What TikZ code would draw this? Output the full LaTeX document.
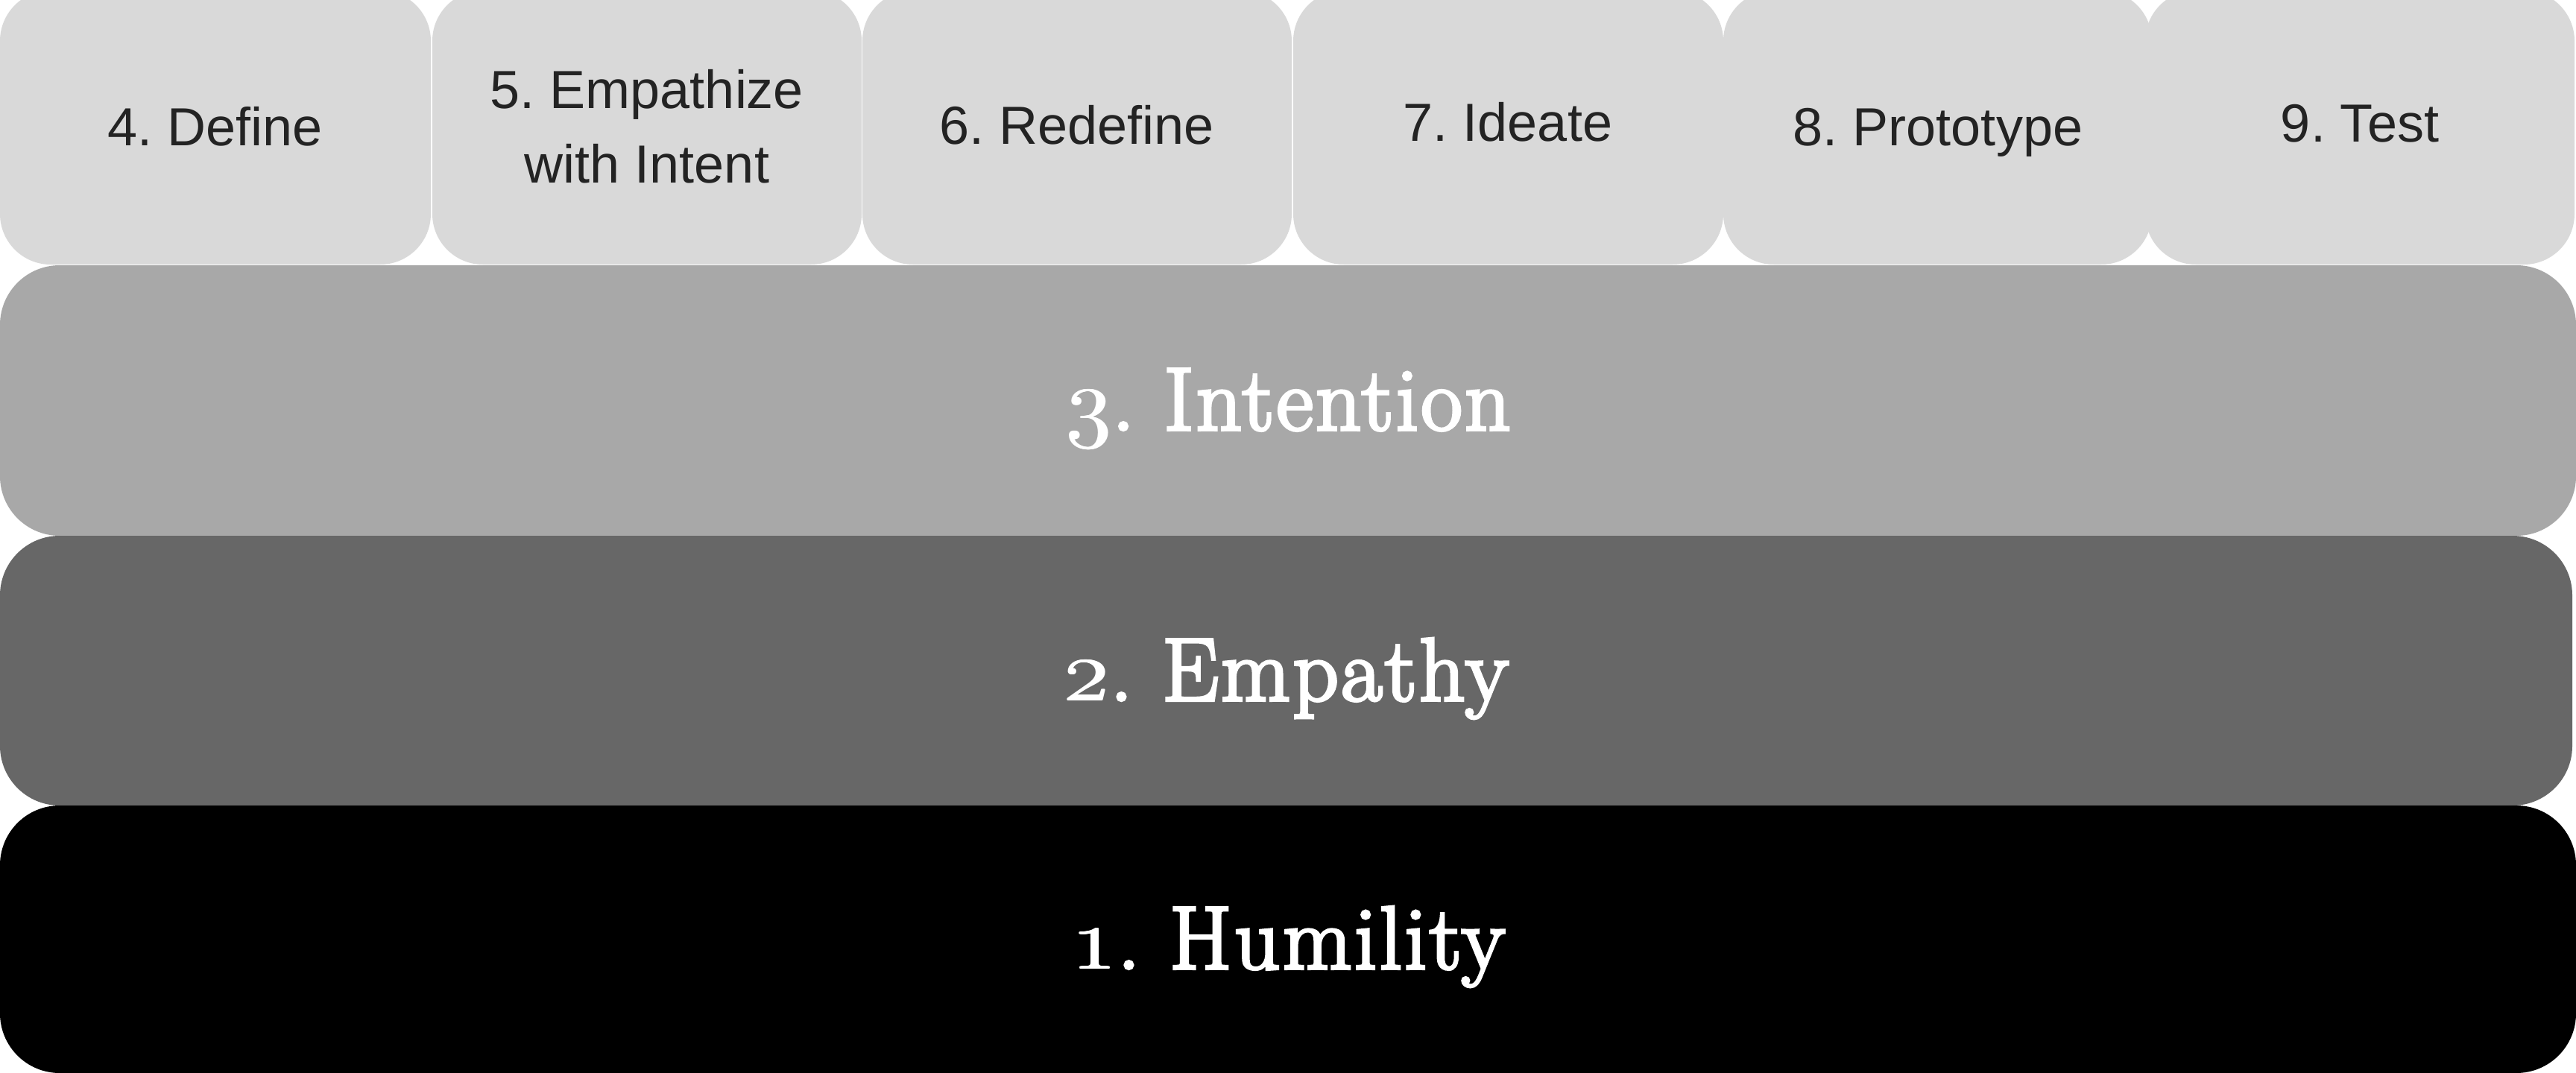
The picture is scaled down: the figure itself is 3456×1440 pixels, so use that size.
\documentclass[tikz,border=0pt]{standalone}
\usepackage{fontspec}
\usepackage{graphicx}
\newfontfamily\boxfont{Liberation Sans}
\newfontfamily\bandfont[FakeBold=3.5,LetterSpace=3]{Latin Modern Roman}
\frenchspacing
\definecolor{topgray}{HTML}{D9D9D9}
\definecolor{midgray}{HTML}{A8A8A8}
\definecolor{deepgray}{HTML}{676767}
\definecolor{boxtext}{HTML}{232323}
\newcommand\osnum[1]{\scalebox{4.9}{\fontencoding{OML}\fontfamily{cmm}\fontseries{m}\fontshape{it}\fontsize{24.88}{30}\selectfont\rlap{#1}\kern0.2pt\rlap{#1}\kern0.2pt\rlap{#1}\kern0.2pt#1}}
\begin{document}
\begin{tikzpicture}[x=1pt,y=-1pt,
  topbox/.style={rectangle, fill=topgray, draw=none, inner sep=0pt, rounded corners=68pt, minimum height=368pt},
  band/.style={rectangle, draw=none, inner sep=0pt, rounded corners=80pt},
  toptext/.style={inner sep=0pt, text=boxtext, font=\boxfont\fontsize{72}{100}\selectfont},
  bandtext/.style={inner sep=0pt, text=white, anchor=base, font=\bandfont\fontsize{120}{130}\selectfont}
]
\useasboundingbox (0,0) rectangle (3456,1440);
\clip (0,0) rectangle (3456,1440);
\fill[white] (0,0) rectangle (3456,1440);

% top row of boxes
\node[topbox, minimum width=578pt] (b4) at (289,171) {};
\node[topbox, minimum width=576pt] (b5) at (868,171) {};
\node[topbox, minimum width=576pt] (b6) at (1445,171) {};
\node[topbox, minimum width=577pt] (b7) at (2023.5,171) {};
\node[topbox, minimum width=575pt] (b8) at (2599.5,171) {};
\node[topbox, minimum width=576pt] (b9) at (3166,171) {};

\node[toptext, anchor=base] (t4) at (289,195) {4. Define};
\node[toptext, align=center, anchor=center] (t5) at (868,170) {5. Empathize\\with Intent};
\node[toptext, anchor=base] (t6) at (1445,193) {6. Redefine};
\node[toptext, anchor=base] (t7) at (2023,189) {7. Ideate};
\node[toptext, anchor=base] (t8) at (2600,195) {8. Prototype};
\node[toptext, anchor=base] (t9) at (3166,190) {9. Test};

% bands
\node[band, fill=midgray, minimum width=3456pt, minimum height=363pt] (intention) at (1728,537.5) {};
\node[band, fill=deepgray, minimum width=3451pt, minimum height=362pt] (empathy) at (1725.5,900) {};
\node[band, fill=black, minimum width=3456pt, minimum height=359pt] (humility) at (1728,1260.5) {};

\node[bandtext] (l3) at (intention.center |- 0,577) {\osnum{3}. Intention};
\node[bandtext] (l2) at (empathy.center |- 0,940) {\osnum{2}. Empathy};
\node[bandtext] (l1) at (humility.center |- 0,1300) {\osnum{1}. Humility};
\end{tikzpicture}
\end{document}
